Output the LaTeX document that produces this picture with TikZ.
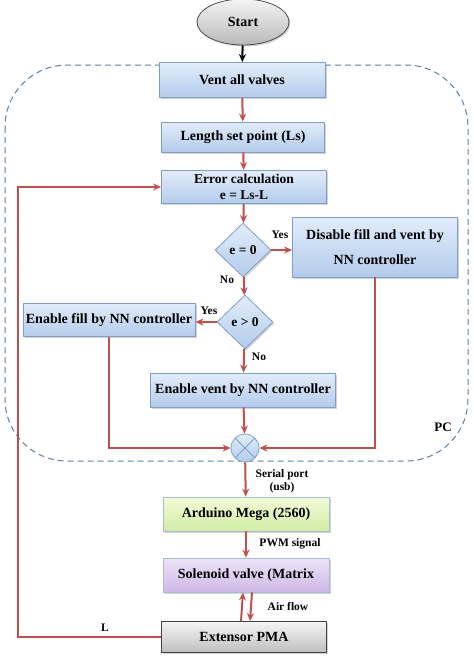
\documentclass[tikz,border=0pt]{standalone}
\usepackage{fontspec}
\setmainfont{Liberation Serif}
\usetikzlibrary{shapes.geometric,arrows.meta,shadows}
\definecolor{arr}{HTML}{C0504D}
\definecolor{boxd}{HTML}{7F9FC8}
\definecolor{boxt}{HTML}{E2EDFA}
\definecolor{boxbot}{HTML}{B3CBEC}
\definecolor{dashc}{HTML}{5B7FA8}
\definecolor{grnt}{HTML}{F2FBD6}
\definecolor{grnb}{HTML}{D2EDA6}
\definecolor{purt}{HTML}{EEE4F8}
\definecolor{purb}{HTML}{CDB8E6}
\tikzset{
  box/.style={draw=boxd, line width=0.8pt, top color=boxt, bottom color=boxbot,
    font=\bfseries\fontsize{14}{16}\selectfont, align=center, inner sep=2pt,
    drop shadow={opacity=0.35, shadow xshift=1.5pt, shadow yshift=-1.5pt}},
  dia/.style={diamond, draw=boxd, line width=0.8pt, top color=boxt, bottom color=boxbot,
    font=\bfseries\fontsize{13.5}{15}\selectfont, inner sep=0pt, minimum width=56pt, minimum height=54pt,
    drop shadow={opacity=0.35, shadow xshift=1.5pt, shadow yshift=-1.5pt}},
  lab/.style={font=\bfseries\fontsize{11.5}{13}\selectfont, inner sep=1pt},
  conn/.style={draw=arr, line width=2pt, -{Stealth[length=8pt,width=7pt]}},
  line/.style={draw=arr, line width=2pt}
}
\begin{document}
\begin{tikzpicture}[x=1pt,y=-1pt]
\useasboundingbox (0,0) rectangle (474,657);
% PC region
\draw[dashc, line width=1pt, dash pattern=on 6pt off 4pt, rounded corners=62pt] (5,65) rectangle (468,461);
% nodes
\node[ellipse, draw=black!70, line width=0.8pt, top color=gray!8, bottom color=gray!55,
  minimum width=92pt, minimum height=46pt, font=\bfseries\fontsize{14}{16}\selectfont,
  drop shadow={opacity=0.35, shadow xshift=1.5pt, shadow yshift=-1.5pt}] (start) at (243,22) {Start};
\node[box, minimum width=166pt, minimum height=35pt] (vent) at (242,80) {Vent all valves};
\node[box, minimum width=163pt, minimum height=30pt] (ls) at (243,137) {Length set point (Ls)};
\node[box, minimum width=165pt, minimum height=33pt, font=\bfseries\fontsize{13.5}{16}\selectfont] (err) at (244,187) {Error calculation\\e = Ls-L};
\node[dia] (d1) at (243,250) {e = 0};
\node[box, minimum width=165pt, minimum height=60pt] (dis) at (375,247) {Disable fill and vent by\\[9pt]NN controller};
\node[dia] (d2) at (245,322) {e {\textgreater} 0};
\node[box, minimum width=172pt, minimum height=33pt] (fill) at (109,320) {Enable fill by NN controller};
\node[box, minimum width=185pt, minimum height=34pt] (env) at (243,390) {Enable vent by NN controller};
\node[circle, draw=boxd, line width=0.8pt, top color=boxt, bottom color=boxbot, minimum size=28pt, inner sep=0pt,
  path picture={\draw[boxd, line width=0.8pt] (path picture bounding box.north west) -- (path picture bounding box.south east)
     (path picture bounding box.north east) -- (path picture bounding box.south west);}] (sum) at (245,448) {};
\node[box, top color=grnt, bottom color=grnb, draw=boxd!70, minimum width=166pt, minimum height=34pt] (ard) at (246,514) {Arduino Mega (2560)};
\node[box, top color=purt, bottom color=purb, draw=boxd!70, minimum width=166pt, minimum height=34pt] (sol) at (246,575) {Solenoid valve (Matrix};
\node[box, top color=gray!8, bottom color=gray!50, draw=black!75, minimum width=165pt, minimum height=31pt] (ext) at (244,637) {Extensor PMA};
% labels
\node[lab] (y1) at (280,235) {Yes};
\node[lab] (n1) at (227,280) {No};
\node[lab] (y2) at (209,311) {Yes};
\node[lab] (n2) at (259,357) {No};
\node[lab, font=\bfseries\fontsize{13}{14}\selectfont] (pc) at (443,427) {PC};
\node[lab, align=center] (sp) at (282,481) {Serial port\\(usb)};
\node[lab] (pwm) at (290,544) {PWM signal};
\node[lab] (air) at (288,606) {Air flow};
\node[lab] (lL) at (105,628) {L};
% connectors
\draw[black, line width=2pt, -{Stealth[length=8pt,width=7pt]}] (start) -- (vent);
\draw[conn] (vent) -- (ls);
\draw[conn] (ls) -- (err);
\draw[conn] (err) -- (d1);
\draw[conn] (d1) -- (d1 -| dis.west);
\draw[conn] (d1) -- (d2);
\draw[conn] (d2) -- (d2 -| fill.east);
\draw[conn] (d2) -- (env);
\draw[conn] (env) -- (sum);
\draw[conn] (fill.south) |- (sum.west);
\draw[conn] (dis.south) |- (sum.east);
\draw[conn] (sum) -- (ard);
\draw[conn] (ard) -- (sol);
\draw[conn] ([xshift=-3pt]ext.north) -- ([xshift=-3pt]sol.south);
\draw[conn] ([xshift=6pt]sol.south) -- ([xshift=6pt]ext.north);
\coordinate (fb) at (18,637);
\draw[conn] (ext.west) -- (fb) |- (err.west);
\end{tikzpicture}
\end{document}
